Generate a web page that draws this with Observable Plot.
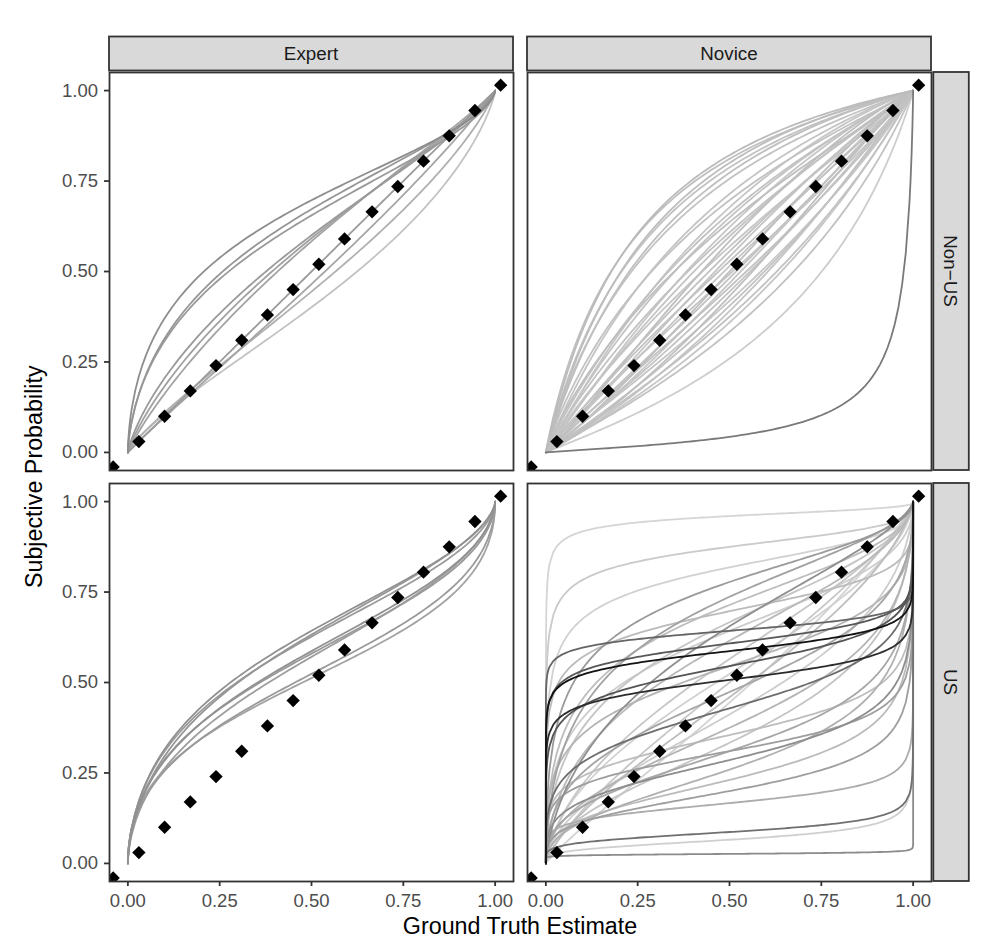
<!DOCTYPE html>
<html>
<head>
<meta charset="utf-8">
<script src="https://cdn.jsdelivr.net/npm/d3@7"></script>
<script src="https://cdn.jsdelivr.net/npm/@observablehq/plot@0.6"></script>
<style>
  html, body { margin: 0; padding: 0; background: #ffffff; }
  #chart { width: 992px; height: 943px; }
</style>
</head>
<body>
<div id="chart"></div>
<script>
// ---------------- data ----------------
const columns = ["Expert", "Novice"];
const rows = ["Non−US", "US"];
const xTicks = [0, 0.25, 0.5, 0.75, 1];
const yTicks = [0, 0.25, 0.5, 0.75, 1];
const xTitle = "Ground Truth Estimate";
const yTitle = "Subjective Probability";

// reference diamonds (same in every panel)
const diamondX = [-0.04, 0.03, 0.10, 0.17, 0.24, 0.31, 0.38, 0.45, 0.52, 0.59, 0.665, 0.735, 0.805, 0.875, 0.945, 1.015];
const diamondY = [-0.04, 0.03, 0.10, 0.17, 0.24, 0.31, 0.38, 0.45, 0.52, 0.59, 0.665, 0.735, 0.805, 0.875, 0.945, 1.015];

// fitted weighting-function parameters per participant (gamma = curvature, delta = elevation, level = grey value)
const expertNonUSGamma = [0.62, 0.68, 0.66, 0.80, 0.85, 0.90, 1.00, 0.95, 0.85, 0.79];
const expertNonUSDelta = [2.30, 2.05, 1.90, 1.50, 1.45, 1.40, 1.00, 0.87, 0.80, 0.67];
const expertNonUSLevel = [0.36, 0.32, 0.30, 0.30, 0.27, 0.26, 0.30, 0.25, 0.20, 0.12];

const expertUSGamma = [0.62, 0.64, 0.60, 0.58, 0.56, 0.60, 0.53, 0.50];
const expertUSDelta = [1.80, 1.72, 1.68, 1.42, 1.38, 1.33, 1.10, 1.05];
const expertUSLevel = [0.34, 0.32, 0.30, 0.34, 0.30, 0.28, 0.30, 0.26];

const noviceNonUSGamma = [1.00, 0.95, 1.02, 0.97, 1.00, 0.95, 1.00, 0.92, 1.05, 0.97, 1.00, 0.90, 1.05, 0.95, 1.00, 1.10, 0.93, 1.00,
                          1.05, 0.95, 1.00, 1.10, 0.92, 1.00, 1.05, 0.95, 1.00, 1.10, 0.95, 1.00, 1.05, 0.97, 1.00, 0.95, 0.95, 0.85];
const noviceNonUSDelta = [4.60, 4.30, 4.00, 3.70, 3.40, 3.10, 2.50, 2.30, 2.10, 1.95, 1.85, 1.75, 1.65, 1.55, 1.48, 1.40, 1.32, 1.25,
                          1.18, 1.12, 1.06, 1.00, 0.97, 0.93, 0.88, 0.84, 0.80, 0.76, 0.72, 0.68, 0.64, 0.60, 0.56, 0.50, 0.35, 0.045];
const noviceNonUSLevel = [0.15, 0.13, 0.14, 0.12, 0.13, 0.12, 0.11, 0.12, 0.10, 0.12, 0.11, 0.13, 0.10, 0.12, 0.11, 0.13, 0.10, 0.12,
                          0.11, 0.12, 0.10, 0.13, 0.11, 0.12, 0.10, 0.12, 0.11, 0.13, 0.10, 0.12, 0.11, 0.12, 0.10, 0.12, 0.07, 0.45];

const noviceUSGamma = [0.35, 0.30, 0.35, 0.09, 0.12, 0.13, 0.20, 0.14, 0.20, 0.08, 0.26, 0.30, 0.50, 0.55, 0.60, 0.45, 0.70, 0.65, 0.80,
                       0.75, 0.60, 0.50, 0.55, 0.40, 0.45, 0.35, 0.30, 0.50, 0.60, 0.70, 0.45, 0.35, 0.25, 0.30, 0.22, 0.90, 0.25, 0.18];
const noviceUSDelta = [24.0, 7.0, 4.5, 1.80, 1.42, 1.03, 1.20, 1.55, 0.095, 0.027, 0.07, 0.75, 2.5, 2.0, 1.6, 1.8, 1.3, 1.1, 1.0,
                       0.85, 0.70, 0.60, 0.50, 0.45, 0.35, 0.30, 0.25, 3.5, 2.8, 1.9, 0.90, 1.20, 0.55, 0.40, 0.45, 0.80, 2.3, 0.20];
const noviceUSLevel = [0.03, 0.08, 0.05, 0.54, 0.92, 0.80, 0.62, 0.60, 0.49, 0.37, 0.06, 0.50, 0.14, 0.11, 0.16, 0.07, 0.10, 0.05, 0.09,
                       0.14, 0.07, 0.18, 0.11, 0.24, 0.20, 0.15, 0.28, 0.30, 0.27, 0.35, 0.25, 0.18, 0.14, 0.36, 0.28, 0.04, 0.15, 0.22];

// ---------------- build tables ----------------
const panels = [
  {col: columns[0], row: rows[0], gamma: expertNonUSGamma, delta: expertNonUSDelta, level: expertNonUSLevel},
  {col: columns[1], row: rows[0], gamma: noviceNonUSGamma, delta: noviceNonUSDelta, level: noviceNonUSLevel},
  {col: columns[0], row: rows[1], gamma: expertUSGamma, delta: expertUSDelta, level: expertUSLevel},
  {col: columns[1], row: rows[1], gamma: noviceUSGamma, delta: noviceUSDelta, level: noviceUSLevel}
];

// evaluation points of the linear-in-log-odds weighting function (dense at both ends)
const grid = [0, 1e-7, 1e-6, 1e-5, 1e-4, 5e-4, 0.001, 0.002, 0.004, 0.007]
  .concat(d3.range(1, 100).map(k => k / 100))
  .concat([0.993, 0.996, 0.998, 0.999, 0.9995, 0.9999, 0.99999, 0.999999, 0.9999999, 1]);

const curves = [];
panels.forEach((pn, pi) => pn.gamma.forEach((g, i) => {
  curves.push({col: pn.col, row: pn.row, id: pi * 1000 + i, gamma: g, delta: pn.delta[i], level: pn.level[i]});
}));
curves.sort((a, b) => a.level - b.level);

const curveRows = [];
for (const c of curves) {
  for (const p of grid) {
    const a = c.delta * Math.pow(p, c.gamma);
    const b = Math.pow(1 - p, c.gamma);
    curveRows.push({col: c.col, row: c.row, id: c.id, level: c.level, p, w: a / (a + b)});
  }
}

const diamonds = diamondX.map((x, i) => ({x, y: diamondY[i]}));

// ---------------- plot ----------------
const W = 992, H = 943;
const mL = 108.5, mR = 60.5, mT = 71.5, mB = 61;
const FONT = "'Liberation Sans', Arial, Helvetica, sans-serif";
const TICK_FS = 18.5, STRIP_FS = 18.8, TITLE_FS = 23.3;

const plot = Plot.plot({
  width: W,
  height: H,
  marginLeft: mL,
  marginRight: mR,
  marginTop: mT,
  marginBottom: mB,
  style: {fontFamily: FONT, background: "#ffffff", overflow: "visible"},
  x: {domain: [-0.05, 1.05]},
  y: {domain: [-0.05, 1.05]},
  fx: {domain: columns, paddingInner: 0.03345, paddingOuter: 0, axis: null, label: null},
  fy: {domain: rows, paddingInner: 0.0327, paddingOuter: 0, axis: null, label: null},
  color: {type: "linear", domain: [0, 1], range: ["#dcdcdc", "#000000"], interpolate: "rgb"},
  marks: [
    Plot.line(curveRows, {x: "p", y: "w", z: "id", stroke: "level", fx: "col", fy: "row",
      strokeWidth: 1.8, clip: true}),
    Plot.dot(diamonds, {x: "x", y: "y", symbol: "diamond2", r: 6, fill: "#000000", stroke: "none", clip: true}),
    Plot.frame({stroke: "#333333", strokeWidth: 1.8}),
    Plot.axisX({ticks: xTicks, tickFormat: ".2f", tickSize: 5, tickPadding: 7, fontSize: TICK_FS,
      stroke: "#333333", fill: "#4d4d4d", strokeWidth: 1.8, label: null}),
    Plot.axisY({ticks: yTicks, tickFormat: ".2f", tickSize: 5, tickPadding: 6.5, fontSize: TICK_FS,
      stroke: "#333333", fill: "#4d4d4d", strokeWidth: 1.8, label: null})
  ]
});

document.getElementById("chart").appendChild(plot);

// ---------------- strips & titles ----------------
const svgNode = plot.tagName.toLowerCase() === "svg" ? plot : plot.querySelector("svg");
const svg = d3.select(svgNode);
const fxs = plot.scale("fx"), fys = plot.scale("fy");
const fxPos = c => fxs.apply ? fxs.apply(c) : mL + columns.indexOf(c) * fxs.step;
const fyPos = r => fys.apply ? fys.apply(r) : mT + rows.indexOf(r) * fys.step;

const g = svg.append("g").attr("font-family", FONT);
const stripTop = 36.5;
for (const c of columns) {
  const x0 = fxPos(c), bw = fxs.bandwidth;
  g.append("rect").attr("x", x0).attr("y", stripTop).attr("width", bw).attr("height", mT - stripTop - 1)
    .attr("fill", "#d9d9d9").attr("stroke", "#333333").attr("stroke-width", 1.8);
  g.append("text").attr("x", x0 + bw / 2).attr("y", (stripTop + mT - 1) / 2).attr("dy", "0.35em")
    .attr("text-anchor", "middle").attr("font-size", STRIP_FS).attr("fill", "#1a1a1a").text(c);
}
const stripLeft = W - mR + 1.8;
const stripW = 35.5;
for (const r of rows) {
  const y0 = fyPos(r), bh = fys.bandwidth;
  g.append("rect").attr("x", stripLeft).attr("y", y0).attr("width", stripW).attr("height", bh)
    .attr("fill", "#d9d9d9").attr("stroke", "#333333").attr("stroke-width", 1.8);
  g.append("text").attr("transform", `translate(${stripLeft + stripW / 2},${y0 + bh / 2}) rotate(90)`)
    .attr("dy", "0.35em").attr("text-anchor", "middle").attr("font-size", STRIP_FS).attr("fill", "#1a1a1a").text(r);
}
g.append("text").attr("x", (mL + W - mR) / 2).attr("y", 934).attr("text-anchor", "middle")
  .attr("font-size", TITLE_FS).attr("fill", "#000000").text(xTitle);
g.append("text").attr("transform", `translate(42,${(mT + H - mB) / 2}) rotate(-90)`).attr("text-anchor", "middle")
  .attr("font-size", TITLE_FS).attr("fill", "#000000").text(yTitle);
</script>
</body>
</html>
